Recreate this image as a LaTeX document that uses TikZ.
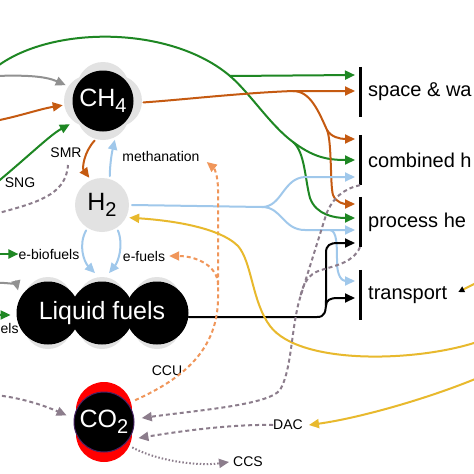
\documentclass[tikz,border=0pt]{standalone}
\usepackage{fontspec}
\setmainfont{Liberation Sans}
\usetikzlibrary{arrows.meta}
\definecolor{flowgreen}{RGB}{30,135,35}
\definecolor{floworange}{RGB}{197,90,17}
\definecolor{flowblue}{RGB}{160,200,235}
\definecolor{flowyellow}{RGB}{232,185,45}
\definecolor{flowgray}{RGB}{145,145,145}
\definecolor{carbongray}{RGB}{140,125,140}
\definecolor{ccuorange}{RGB}{240,150,90}
\definecolor{lobegray}{RGB}{226,226,226}
\definecolor{co2edge}{RGB}{70,35,100}
\newcommand{\lowidx}[1]{\raisebox{-6pt}{\fontsize{20}{20}\selectfont #1}}
\tikzset{
  carrier/.style = {circle, inner sep=0pt, align=center, font=\fontsize{25}{28}\selectfont},
  fuel/.style = {carrier, fill=black, text=white, minimum size=61pt},
  gas/.style = {carrier, fill=lobegray, text=black, minimum size=54pt, outer sep=3pt},
  sink/.style = {anchor=west, minimum height=50pt, inner xsep=8pt, inner ysep=0pt, font=\fontsize{20}{24}\selectfont},
  lab/.style = {inner sep=0pt, font=\fontsize{14}{16}\selectfont},
  sinkbar/.style = {line width=3pt, black},
  link/.style = {line width=2pt, line cap=round},
  flow/.style = {link, -{Triangle[length=10pt,width=9pt]}},
  dashlink/.style = {line width=2pt, carbongray, dash pattern=on 4pt off 3pt},
  capture/.style = {dashlink, -{Triangle[length=10pt,width=9pt]}},
  reuse/.style = {line width=2pt, ccuorange, dash pattern=on 4pt off 3pt},
}
\begin{document}
\begin{tikzpicture}[x=1pt, y=-1pt]
  \fill [white] (0,0) rectangle (474,474);
  \useasboundingbox (0,0) rectangle (474,474);
  \clip (0,0) rectangle (474,474);

  \foreach \dx/\dy in {0/-13, 0/13, -13/0, 13/0}
    \fill [lobegray] (103+\dx,101+\dy) circle (26pt);
  \node [fuel, outer sep=10pt] (ch4) at (103,101) {CH\lowidx{4}};
  \node [gas] (h2) at (102,205) {H\lowidx{2}};
  \foreach \x in {48,102,157} {
    \fill [lobegray] (\x,301) circle (24pt);
    \fill [lobegray] (\x,325) circle (24pt);
  }
  \node [fuel, minimum size=63pt, outer sep=6pt] (liqL) at (48,313) {};
  \node [fuel, minimum size=63pt] (liqR) at (157,313) {};
  \node [fuel, minimum size=63pt, outer sep=9pt,
    label={[carrier, text=white]center:Liquid fuels}] (liq) at (102,313) {};
  \fill [red] (104,410) circle (28pt);
  \fill [red] (104,434) circle (28pt);
  \node [fuel, draw=co2edge, line width=1pt, minimum size=60pt, outer sep=8pt] (co2) at (104,422) {CO\lowidx{2}};

  \node [sink] (space) at (360,92) {space \& wa};
  \node [sink] (chp) at (360,160) {combined h};
  \node [sink] (proc) at (360,222) {process he};
  \node [sink] (tr) at (360,295) {transport};
  \foreach \s in {space,chp,proc,tr}
    \draw [sinkbar] (\s.north west) -- (\s.south west);

  \node [lab] (smr) at (66,153) {SMR};
  \node [lab] (meth) at (161,156) {methanation};
  \node [lab] (sng) at (20,183) {SNG};
  \node [lab] (ebio) at (49,254) {e-biofuels};
  \node [lab] (efu) at (144,256) {e-fuels};
  \node [lab, anchor=west] (lfu) at (0.5,328) {els};
  \node [lab] (ccu) at (167,371) {CCU};
  \node [lab] (dac) at (288,425) {DAC};
  \node [lab] (ccs) at (248,462) {CCS};

  \coordinate (inTop) at (-5,68);
  \coordinate (inGrayCH4) at (-5,76);
  \coordinate (inOrangeCH4) at (-5,121);
  \coordinate (inSNG) at (-5,184);
  \coordinate (inSNGdash) at (-5,214);
  \coordinate (inEbio) at (-5,254);
  \coordinate (inGrayLiq) at (-5,283);
  \coordinate (inGreenLiq) at (-5,315);
  \coordinate (inCO2) at (-5,395);
  \coordinate (sngEnd) at (68,165);
  \coordinate (inYellowTr) at (480,281);
  \coordinate (inYellowH2) at (480,341);
  \coordinate (inYellowDAC) at (480,377);
  \coordinate (gA) at (230,76);
  \coordinate (gB) at (293,142);
  \coordinate (oA) at (293,91);
  \coordinate (oB) at (327,130);
  \coordinate (bA) at (262,207);
  \coordinate (bB) at (330,230);
  \coordinate (kA) at (326,306);
  \coordinate (cA) at (218,298);
  \coordinate (cB) at (218,285);
  \coordinate (dM) at (300,298);

  \draw [flow, flowgreen] (inTop) .. controls (50,25) and (170,25) .. (gA) -- ([xshift=-5pt,yshift=17pt]space.west);
  \draw [flow, flowgreen] (gA) .. controls (250,93) and (270,125) .. (gB) .. controls (312,156) and (325,160) .. ([xshift=-5pt]chp.west);
  \draw [flow, flowgreen] (gB) .. controls (305,152) and (305,180) .. (310,198) .. controls (316,215) and (335,218) .. ([xshift=-5pt,yshift=4pt]proc.west);
  \draw [flow, flowgray] (inGrayCH4) .. controls (25,75) and (45,76) .. (ch4.157);
  \draw [flow, floworange] (inOrangeCH4) .. controls (20,116) and (40,109) .. (ch4.186);
  \draw [flow, flowgreen] (inSNG) .. controls (30,155) and (50,135) .. (ch4.215);
  \draw [dashlink] (inSNGdash) .. controls (35,203) and (66,196) .. (sngEnd);

  \draw [flow, floworange] (ch4.358) .. controls (180,100) and (240,93) .. (oA) -- ([xshift=-5pt,yshift=1pt]space.west);
  \draw [flow, floworange] (oA) .. controls (310,91) and (318,110) .. (oB) .. controls (331,137) and (340,139) .. ([xshift=-5pt,yshift=21pt]chp.west);
  \draw [flow, floworange] (oB) .. controls (332,142) and (330,185) .. (333,195) .. controls (336,203) and (345,204) .. ([xshift=-5pt,yshift=18pt]proc.west);
  \draw [flow, floworange] (ch4.258) .. controls (84,152) and (82,168) .. (h2.115);
  \draw [flow, flowblue] (h2.75) .. controls (110,163) and (112,152) .. (ch4.287);

  \draw [flow, flowblue] (h2.east) -- (bA) .. controls (282,207) and (283,178) .. (305,177) -- ([xshift=-5pt,yshift=-17pt]chp.west);
  \draw [flow, flowblue] (bA) .. controls (282,207) and (283,230) .. (305,230) -- ([xshift=-5pt,yshift=-8pt]proc.west);
  \draw [flow, flowblue] (bB) .. controls (337,231) and (337,245) .. (337,262) .. controls (337,276) and (342,281) .. ([xshift=-5pt,yshift=14pt]tr.west);
  \draw [flow, flowblue] (h2.238) .. controls (78,245) and (84,262) .. (liq.100);
  \draw [flow, flowblue] (h2.302) .. controls (124,245) and (118,262) .. (liq.80);

  \draw [flow, flowgreen] (inEbio) -- (ebio.west);
  \draw [flow, flowgray] (inGrayLiq) .. controls (8,282) and (17,286) .. (liqL.143);
  \draw [flow, flowgreen] (inGreenLiq) -- (liqL.183);
  \draw [flow, black] ([yshift=-4pt]liqR.east) -- (317,317) .. controls (325,317) and (326,312) .. (326,300) -- (326,253) .. controls (326,245) and (330,243) .. (338,243) -- ([xshift=-5pt,yshift=-21pt]proc.west);
  \draw [flow, black] (kA) .. controls (326,300) and (330,298) .. (338,298) -- ([xshift=-5pt,yshift=-3pt]tr.west);

  \draw [reuse, -{Triangle[length=10pt,width=9pt]}] (co2.35) .. controls (175,382) and (218,355) .. (cA) -- (218,190) .. controls (218,175) and (214,168) .. ([xshift=7pt,yshift=-6pt]meth.east);
  \draw [reuse, -{Triangle[length=10pt,width=9pt]}] (cB) .. controls (218,265) and (195,256) .. ([xshift=4pt]efu.east);

  \draw [flow, flowyellow] (inYellowH2) .. controls (420,362) and (300,366) .. (270,326) .. controls (252,302) and (252,262) .. (238,246) .. controls (218,226) and (165,220) .. (h2.-25);
  \draw [flow, flowyellow] (inYellowDAC) .. controls (430,398) and (360,418) .. ([xshift=6pt]dac.east);
  \draw [link, flowyellow, -{Triangle[length=6pt,width=6pt,black]}] (inYellowTr) -- ([xshift=3pt,yshift=3pt]tr.east);

  \draw [capture] (chp.south west) .. controls (345,188) and (332,198) .. (326,215) -- (dM) .. controls (291,328) and (292,370) .. (280,390) .. controls (268,405) and (200,410) .. (co2.6);
  \draw [dashlink] (proc.south west) .. controls (352,265) and (330,266) .. (316,272) .. controls (306,277) and (302,288) .. (dM);
  \draw [capture] (dac.west) .. controls (230,424) and (175,432) .. (co2.-25);
  \draw [capture] (inCO2) .. controls (25,398) and (50,408) .. (co2.170);
  \draw [capture, dash pattern=on 1.5pt off 2pt] (co2.-42) .. controls (160,462) and (200,466) .. ([xshift=-4pt]ccs.west);
\end{tikzpicture}
\end{document}
